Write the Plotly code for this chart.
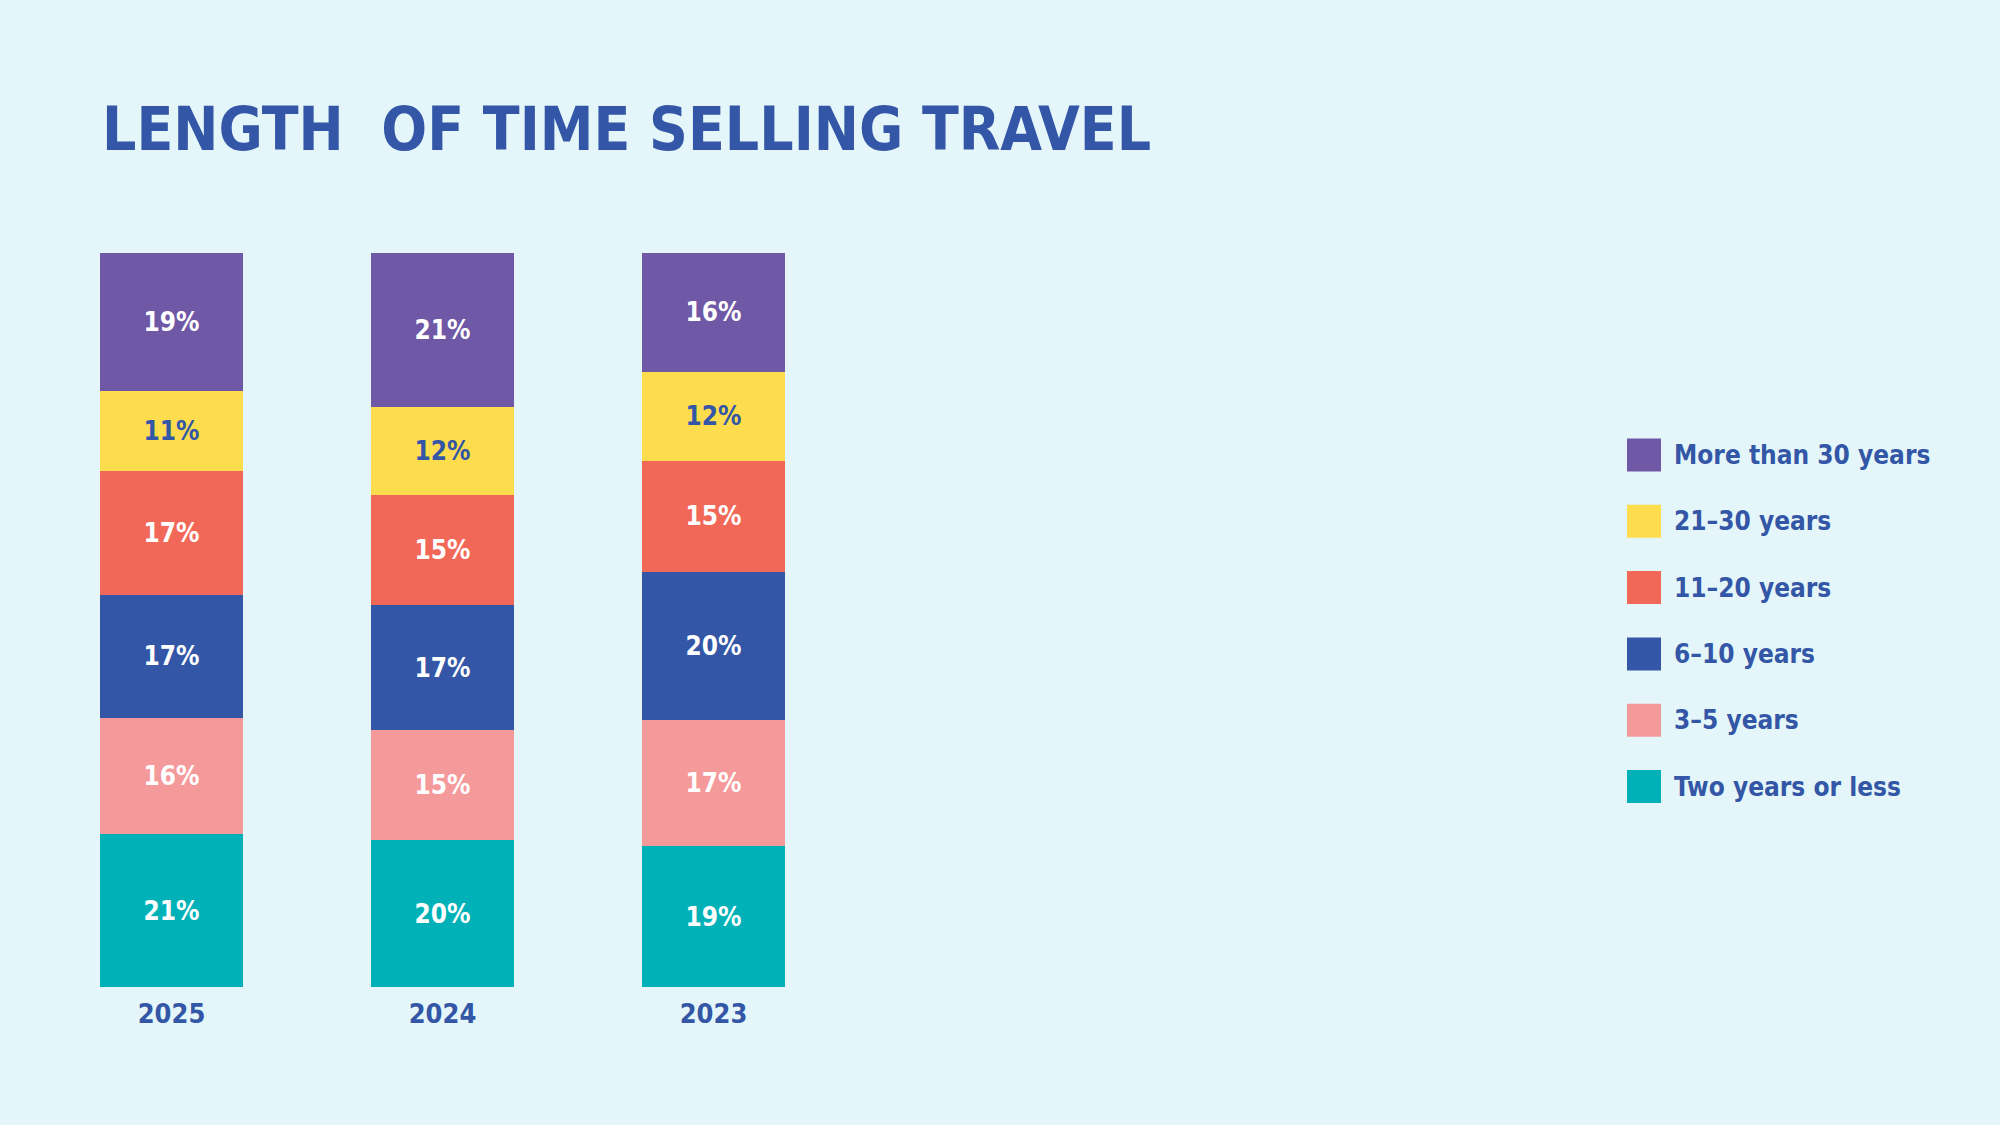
import plotly.graph_objects as go

# ---- data ----
years = ["2025", "2024", "2023"]
series_names = ["Two years or less", "3–5 years", "6–10 years",
                "11–20 years", "21–30 years", "More than 30 years"]
two_years_or_less = [21, 20, 19]
three_to_five = [16, 15, 17]
six_to_ten = [17, 17, 20]
eleven_to_twenty = [17, 15, 15]
twentyone_to_thirty = [11, 12, 12]
more_than_thirty = [19, 21, 16]

series_values = [two_years_or_less, three_to_five, six_to_ten,
                 eleven_to_twenty, twentyone_to_thirty, more_than_thirty]
colors = ["#00b2b7", "#f59a9b", "#3356a6", "#f26858", "#fddc4e", "#6f58a6"]
label_colors = ["#ffffff", "#ffffff", "#ffffff", "#ffffff", "#3356a6", "#ffffff"]

BG = "#e4f6f9"
NAVY = "#3356a6"
FONT = "DejaVu Sans Condensed, Liberation Sans Narrow, sans-serif"

W, H = 2000, 1125
ML, MR, MT, MB = 36, 1151, 253, 138
PW = W - ML - MR
PH = H - MT - MB

fig = go.Figure()
for name, vals, col, lcol in zip(series_names, series_values, colors, label_colors):
    fig.add_trace(go.Bar(
        x=years, y=vals, name=name,
        marker=dict(color=col, line=dict(width=0)),
        text=[f"{v}%" for v in vals],
        textposition="inside", insidetextanchor="middle", textangle=0,
        textfont=dict(family=FONT, size=26, color=lcol, weight="bold"),
        hovertemplate="%{x}<br>" + name + ": %{text}<extra></extra>",
        showlegend=False,
    ))

def px_to_paper(xp, yp):
    return (xp - ML) / PW, (H - MB - yp) / PH

legend_y0 = 455
legend_step = 66.3
for i, (name, col) in enumerate(zip(reversed(series_names), reversed(colors))):
    yc = legend_y0 + i * legend_step
    x0, y0 = px_to_paper(1627, yc + 16.5)
    x1, y1 = px_to_paper(1661, yc - 16.5)
    fig.add_shape(type="rect", xref="paper", yref="paper",
                  x0=x0, x1=x1, y0=y0, y1=y1,
                  fillcolor=col, line=dict(width=0))
    tx, ty = px_to_paper(1672, yc)
    fig.add_annotation(xref="paper", yref="paper", x=tx, y=ty,
                       xanchor="left", yanchor="middle", showarrow=False,
                       text=name,
                       font=dict(family=FONT, size=26, color=NAVY, weight="bold"))

fig.update_layout(
    width=W, height=H,
    paper_bgcolor=BG, plot_bgcolor=BG,
    margin=dict(l=ML, r=MR, t=MT, b=MB),
    barmode="stack", barnorm="percent", bargap=0.469,
    title=dict(text="LENGTH  OF TIME SELLING TRAVEL",
               x=102 / W, xanchor="left", xref="container",
               y=1 - 129 / H, yanchor="middle", yref="container",
               font=dict(family=FONT, size=60, color=NAVY, weight="bold")),
    xaxis=dict(type="category", showgrid=False, zeroline=False, showline=False,
               ticks="", tickfont=dict(family=FONT, size=27, color=NAVY, weight="bold"),
               ticklabelstandoff=8),
    yaxis=dict(range=[0, 100], visible=False, showgrid=False, zeroline=False),
    showlegend=False,
)

fig.write_html("out.html")
